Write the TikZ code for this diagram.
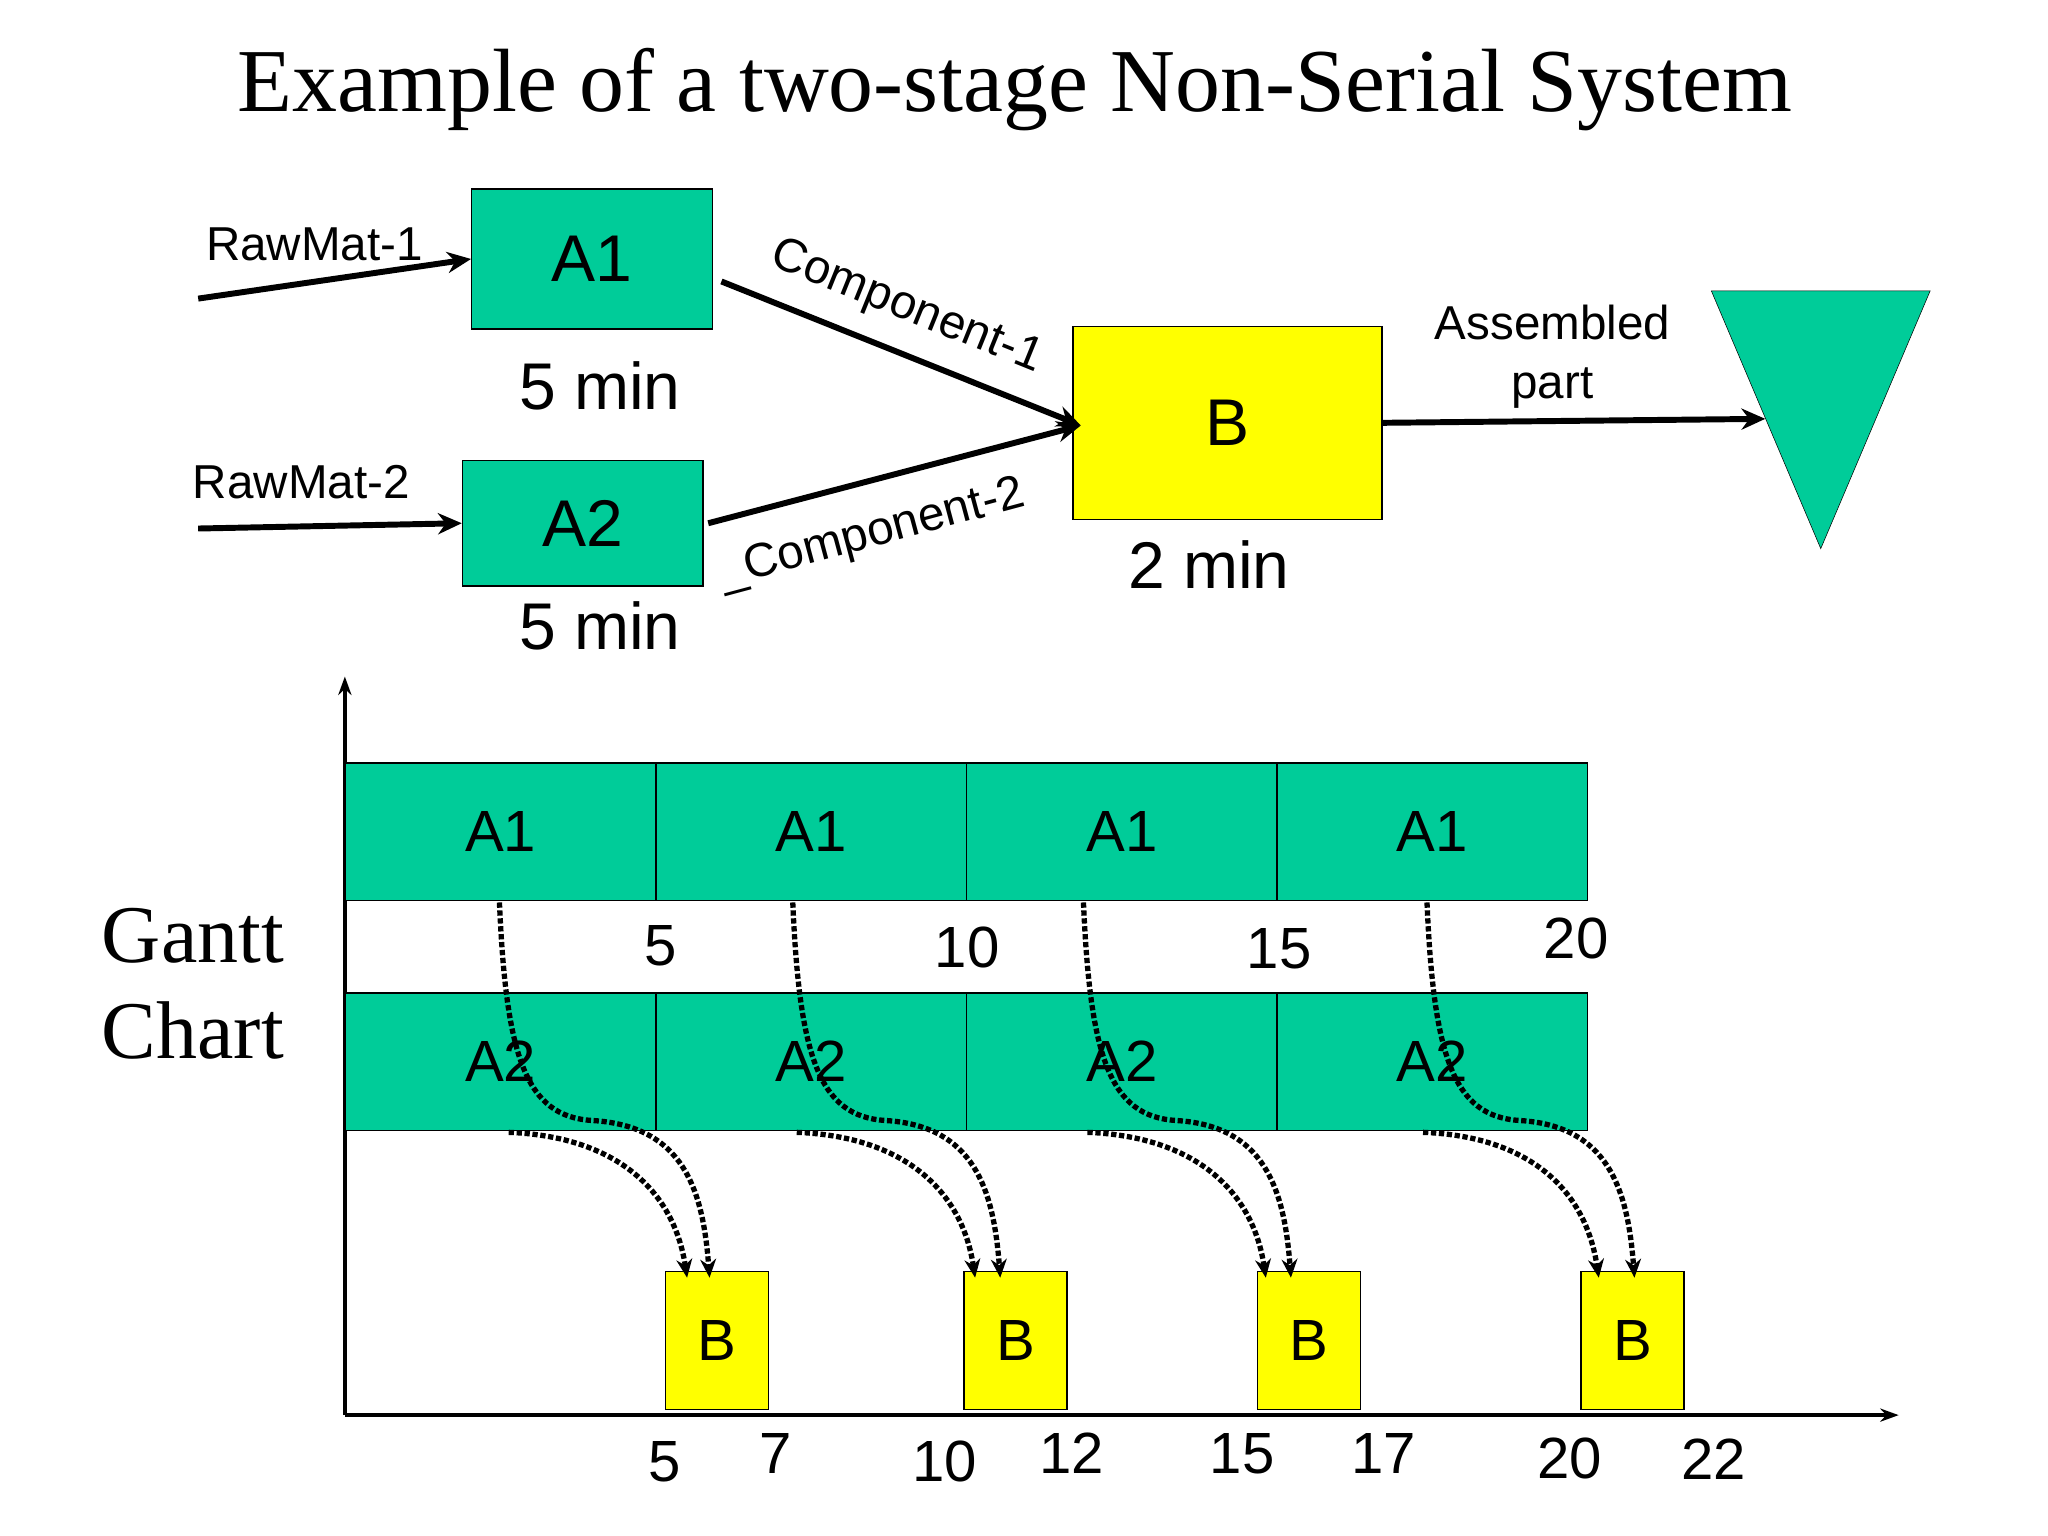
\documentclass[tikz,border=0pt]{standalone}
\usepackage{fontspec}
\setmainfont{Liberation Serif}
\newfontfamily\arialf{Liberation Sans}
\usetikzlibrary{arrows.meta,shapes.geometric}
\definecolor{grn}{RGB}{0,204,153}
\definecolor{yel}{RGB}{255,255,0}
\begin{document}
\begin{tikzpicture}[x=1pt,y=-1pt,
  box/.style={draw=black,line width=1pt,inner sep=0pt},
  lab/.style={font=\arialf\fontsize{36}{40}\selectfont},
  big/.style={font=\arialf\fontsize{50}{54}\selectfont},
  gl/.style={font=\arialf\fontsize{44}{48}\selectfont},
  arr/.style={line width=4.5pt,-{Stealth[length=18pt,width=16pt]}},
  dot/.style={line width=4pt,dotted,-{Stealth[length=14pt,width=12pt]}}]
\useasboundingbox (0,0) rectangle (1550,1162);
\node[font=\fontsize{68}{72}\selectfont] (title) at (768,68) {Example of a two-stage Non-Serial System};
% top diagram
\node[box,fill=grn,minimum width=182pt,minimum height=106pt,big] (A1) at (448,196) {A1};
\node[box,fill=grn,minimum width=182pt,minimum height=95pt,big] (A2) at (441,396) {A2};
\node[box,fill=yel,minimum width=234pt,minimum height=146pt,big] (B) at (929,320) {B};
\node[draw=black,fill=grn,isosceles triangle,shape border rotate=-90,isosceles triangle apex angle=46,minimum height=195pt,inner sep=0pt,anchor=north] (T) at (1378,220) {};
\coordinate (r1) at (150,226);
\coordinate (r2) at (150,400);
\draw[arr] (r1) -- (A1.west);
\draw[arr] (r2) -- (A2.west);
\node[lab] at (238,185) {RawMat-1};
\node[lab] at (228,365) {RawMat-2};
\node[big] at (454,292) {5 min};
\node[big] at (454,474) {5 min};
\node[big] at (915,427) {2 min};
\coordinate (Bin) at (818,322);
\draw[arr] (546,213) -- (Bin);
\draw[arr] (536,396) -- (Bin);
\node[lab,rotate=-22] at (686,233) {Component-1};
\node[lab,rotate=15] at (660,405) {\_Component-2};
\draw[arr] (B.east) -- (1336,317);
\node[lab,align=center,font=\arialf\fontsize{36}{44}\selectfont] at (1175,270) {Assembled\\part};
% Gantt
\node[font=\fontsize{62}{66}\selectfont] at (146,708) {Gantt};
\node[font=\fontsize{62}{66}\selectfont] at (146,780) {Chart};
\coordinate (O) at (261,1071);
\draw[line width=3.5pt,-{Stealth[length=14pt,width=10pt]}] (O) -- (261,512);
\draw[line width=3.5pt,-{Stealth[length=14pt,width=10pt]}] (O) -- (1437,1071);
\foreach \i/\x in {1/261,2/496,3/731,4/966}{
  \node[box,fill=grn,minimum width=235pt,minimum height=104pt,anchor=north west,gl] (g1\i) at (\x,577) {A1};
  \node[box,fill=grn,minimum width=235pt,minimum height=104pt,anchor=north west,gl] (g2\i) at (\x,751) {A2};
}
\foreach \t/\x/\y in {5/500/716,10/732/717,15/968/718,20/1193/710}
  \node[gl] at (\x,\y) {\t};
\foreach \i/\x in {1/503,2/729,3/951,4/1196}
  \node[box,fill=yel,minimum width=78pt,minimum height=104pt,anchor=north west,gl] (b\i) at (\x,962) {B};
\foreach \t/\x/\y in {5/503/1106,7/587/1100,10/715/1106,12/811/1100,15/940/1100,17/1047/1100,20/1188/1104,22/1297/1104}
  \node[gl] at (\x,\y) {\t};
% dotted dependencies
\foreach \i/\a/\c/\ta/\tc in {1/378/385/537/520,2/600/603/757/738,3/820/823/977/958,4/1080/1077/1237/1210}{
  \draw[dot] (\a,683) .. controls (\a+5,800) and (\a+20,845) .. (\a+70,848)
     .. controls (\ta-20,852) and (\ta-5,900) .. (\ta,967);
  \draw[dot] (\c,857) .. controls (\c+80,860) and (\tc-10,900) .. (\tc,967);
}
\end{tikzpicture}
\end{document}
